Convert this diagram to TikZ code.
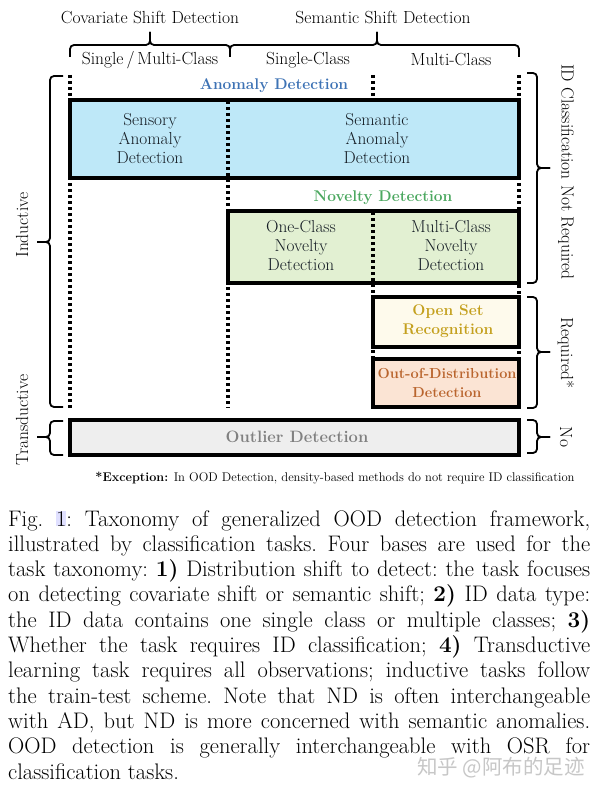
\documentclass[tikz,border=0pt]{standalone}
\usepackage{fontspec}
\newfontfamily\cjk{Noto Sans CJK SC}
\definecolor{adfill}{RGB}{190,232,248}
\definecolor{ndfill}{RGB}{226,240,210}
\definecolor{osrfill}{RGB}{254,250,236}
\definecolor{oodfill}{RGB}{251,228,212}
\definecolor{odfill}{RGB}{238,238,238}
\definecolor{adtext}{RGB}{62,115,181}
\definecolor{ndtext}{RGB}{76,168,96}
\definecolor{osrtext}{RGB}{196,160,30}
\definecolor{oodtext}{RGB}{185,100,45}
\definecolor{odtext}{RGB}{128,128,128}
\definecolor{boxtext}{RGB}{20,28,36}
\begin{document}
\begin{tikzpicture}[x=1pt,y=-1pt,
  taskbox/.style={draw=black,line width=4pt,rectangle,inner sep=0},
  dots/.style={line width=3.5pt,dash pattern=on 3pt off 3pt},
  brc/.style={line width=1.8pt,rounded corners=4pt},
  lbl/.style={font=\fontsize{17.5}{19}\selectfont,align=center,inner sep=0,text=black},
  inlbl/.style={font=\fontsize{17.3}{19}\selectfont,align=center,inner sep=0,text=boxtext},
  blbl/.style={font=\fontsize{15.5}{19}\selectfont\bfseries,align=center,inner sep=0}]
\useasboundingbox[fill=white] (0,0) rectangle (597,797);

% top labels and braces
\node[lbl] (cov) at (150,17) {Covariate Shift Detection};
\node[lbl] (sem) at (383,17) {Semantic Shift Detection};
\draw[brc] (70,57) -- (70,45) -- (150,45) -- (150,32);
\draw[brc] (230,57) -- (230,45) -- (150,45) -- (150,32);
\draw[brc] (230,57) -- (230,45) -- (377,45) -- (377,32);
\draw[brc] (519,57) -- (519,45) -- (377,45) -- (377,32);
\node[lbl] (smc) at (150,60) {Single\,/\,Multi-Class};
\node[lbl] (sc) at (308,60) {Single-Class};
\node[lbl] (mc) at (451,60) {Multi-Class};

% dotted guides (behind boxes)
\draw[dots] (70,75) -- (70,408);
\draw[dots] (519,75) -- (519,408);
\draw[dots] (373,75) -- (373,98);

% boxes
\node[taskbox,fill=adfill,minimum width=449pt,minimum height=78pt] (ad) at (294.5,139) {};
\node[taskbox,fill=ndfill,minimum width=291pt,minimum height=72pt] (nd) at (373.5,247) {};
\node[taskbox,fill=osrfill,minimum width=146pt,minimum height=50pt] (osr) at (446,322) {};
\node[taskbox,fill=oodfill,minimum width=146pt,minimum height=48pt] (ood) at (446,383) {};
\node[taskbox,fill=odfill,minimum width=449pt,minimum height=35pt] (od) at (294.5,437.5) {};

% dotted dividers (on top)
\draw[dots] (228,101) -- (228,408);
\draw[dots] (373,212) -- (373,408);

% group labels
\node[blbl,text=adtext] (adl) at (274,86) {Anomaly Detection};
\node[blbl,text=ndtext] (ndl) at (383,198) {Novelty Detection};

% box texts
\node[inlbl] (sad) at (150,139) {Sensory\\Anomaly\\Detection};
\node[inlbl] (semad) at (377,139) {Semantic\\Anomaly\\Detection};
\node[inlbl] (ocnd) at (301,246) {One-Class\\Novelty\\Detection};
\node[inlbl] (mcnd) at (451,246) {Multi-Class\\Novelty\\Detection};
\node[blbl,text=osrtext] (osrl) at (448,321) {Open Set\\Recognition};
\node[blbl,text=oodtext,font=\fontsize{14.5}{19}\selectfont\bfseries] (oodl) at (447,383) {Out-of-Distribution\\Detection};
\node[blbl,text=odtext,font=\fontsize{16.5}{19}\selectfont\bfseries] (odl) at (297,437) {Outlier Detection};

% right braces
\draw[brc] (527,73) -- (537,73) -- (537,168) -- (550,168);
\draw[brc] (527,283) -- (537,283) -- (537,168) -- (550,168);
\draw[brc] (527,297) -- (537,297) -- (537,352) -- (550,352);
\draw[brc] (527,408) -- (537,408) -- (537,352) -- (550,352);
\draw[brc] (527,420) -- (537,420) -- (537,437) -- (550,437);
\draw[brc] (527,453) -- (537,453) -- (537,437) -- (550,437);
\node[lbl,rotate=-90] (nreq) at (566,172) {ID Classification Not Required};
\node[lbl,rotate=-90] (req) at (566,353) {Required*};
\node[lbl,rotate=-90] (no) at (566,437) {No};

% left braces
\draw[brc] (63,76) -- (50,76) -- (50,242) -- (37,242);
\draw[brc] (63,407) -- (50,407) -- (50,242) -- (37,242);
\draw[brc] (63,421) -- (50,421) -- (50,437) -- (37,437);
\draw[brc] (63,455) -- (50,455) -- (50,437) -- (37,437);
\node[lbl,rotate=90] (ind) at (22,225) {Inductive};
\node[lbl,rotate=90] (trd) at (22,420) {Transductive};

% exception note
\node[lbl,font=\fontsize{12.6}{14}\selectfont] (exc) at (335,478) {\textbf{*Exception:} In OOD Detection, density-based methods do not require ID classification};

% caption
\node[anchor=north west,inner sep=0,text width=582pt,align=justify,font=\fontsize{22.5}{25.3}\selectfont\frenchspacing] (cap) at (8,510) {%
Fig. {\setlength{\fboxsep}{0pt}\colorbox{blue!12}{1}}: Taxonomy of generalized OOD detection framework,\linebreak
illustrated by classification tasks. Four bases are used for the\linebreak
task taxonomy: \textbf{1)} Distribution shift to detect: the task focuses\linebreak
on detecting covariate shift or semantic shift; \textbf{2)} ID data type:\linebreak
the ID data contains one single class or multiple classes; \textbf{3)}\linebreak
Whether the task requires ID classification; \textbf{4)} Transductive\linebreak
learning task requires all observations; inductive tasks follow\linebreak
the train-test scheme. Note that ND is often interchangeable\linebreak
with AD, but ND is more concerned with semantic anomalies.\linebreak
OOD detection is generally interchangeable with OSR for\linebreak
classification tasks.};

% watermark
\node[inner sep=0,text=black!22,font=\cjk\fontsize{20.5}{22}\selectfont] (wm) at (501,768) {知乎 @阿布的足迹};
\end{tikzpicture}
\end{document}
